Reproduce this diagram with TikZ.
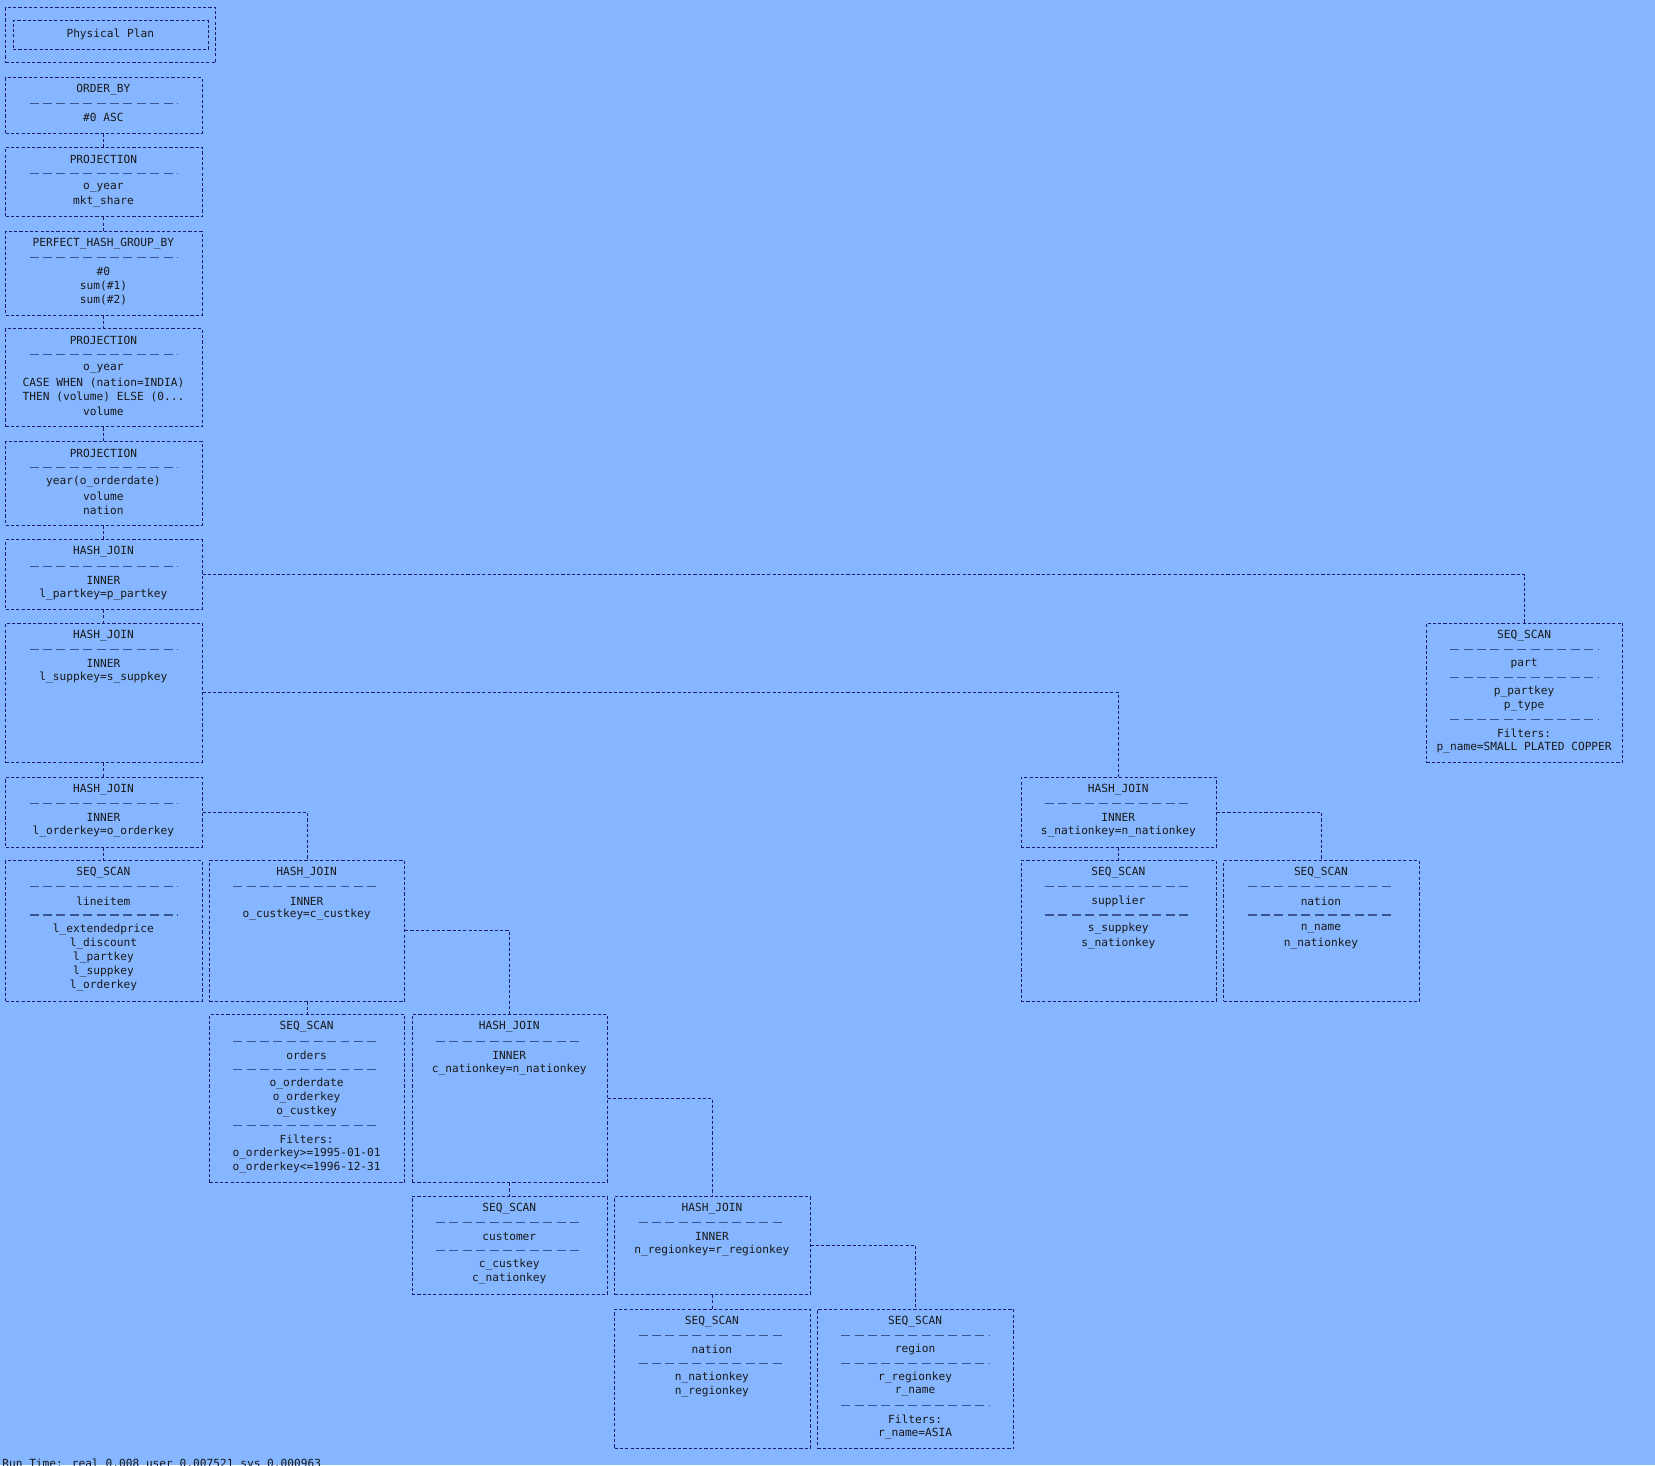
\documentclass[tikz,border=0pt]{standalone}
\usepackage{fontspec}
\newfontfamily\mono{DejaVu Sans Mono}
\definecolor{bg}{HTML}{85B6FF}
\definecolor{edge}{HTML}{1E1E66}
\definecolor{sep}{HTML}{3A5590}
\newcommand\mytdots{...}
\tikzset{
  pbox/.style={draw=edge,densely dashed,line width=0.9pt,inner sep=0,anchor=north west},
  conn/.style={draw=edge,densely dashed,line width=0.9pt},
  sepline/.style={draw=sep,line width=1pt,dash pattern=on 8.5pt off 4.2pt},
  ptext/.style={font=\mono\fontsize{10.6}{12}\selectfont,text=black!90,inner sep=0}
}
\newcommand\plan[6]{%
  \node[pbox,minimum width=#3-#2,minimum height=#5-#4] (#1) at (#2,#4) {};
  \foreach \t [count=\i from 0] in {#6}{%
    \def\dsh{-}%
    \pgfmathsetmacro\yy{#4+12+13.3*\i}%
    \ifx\t\dsh
      \draw[sepline] (#2+23,\yy) -- (#3-23,\yy);
    \else
      \node[ptext] at ({(#2+#3)/2},\yy) {\t};
    \fi}}
\begin{document}
\begin{tikzpicture}[x=1pt,y=-1pt]
\fill[bg] (0,0) rectangle (1568,1388);
\useasboundingbox (0,0) rectangle (1568,1388);
\node[pbox,minimum width=199,minimum height=52] (pp) at (5,7) {};
\node[pbox,minimum width=185,minimum height=27] (ppi) at (12,19) {};
\node[ptext] (ppt) at (104.5,32.5) {Physical Plan};
\plan{ob}{5}{191}{73}{126}{ORDER\_BY,-,\#0 ASC}
\plan{p1}{5}{191}{139}{205}{PROJECTION,-,o\_year,mkt\_share}
\plan{gb}{5}{191}{219}{298}{PERFECT\_HASH\_GROUP\_BY,-,\#0,sum(\#1),sum(\#2)}
\plan{p2}{5}{191}{311}{404}{PROJECTION,-,o\_year,CASE WHEN (nation=INDIA),THEN (volume) ELSE (0\mytdots,volume}
\plan{p3}{5}{191}{418}{497}{PROJECTION,-,year(o\_orderdate),volume,nation}
\plan{h1}{5}{191}{511}{577}{HASH\_JOIN,-,INNER,l\_partkey=p\_partkey}
\plan{h2}{5}{191}{590}{722}{HASH\_JOIN,-,INNER,l\_suppkey=s\_suppkey}
\plan{h3}{5}{191}{736}{802}{HASH\_JOIN,-,INNER,l\_orderkey=o\_orderkey}
\plan{li}{5}{191}{815}{948}{SEQ\_SCAN,-,lineitem,-,l\_extendedprice,l\_discount,l\_partkey,l\_suppkey,l\_orderkey}
\plan{h4}{198}{383}{815}{948}{HASH\_JOIN,-,INNER,o\_custkey=c\_custkey}
\plan{or}{198}{383}{961}{1120}{SEQ\_SCAN,-,orders,-,o\_orderdate,o\_orderkey,o\_custkey,-,Filters:,o\_orderkey>=1995-01-01,o\_orderkey<=1996-12-31}
\plan{h5}{390}{575}{961}{1120}{HASH\_JOIN,-,INNER,c\_nationkey=n\_nationkey}
\plan{cu}{390}{575}{1133}{1226}{SEQ\_SCAN,-,customer,-,c\_custkey,c\_nationkey}
\plan{h6}{582}{767}{1133}{1226}{HASH\_JOIN,-,INNER,n\_regionkey=r\_regionkey}
\plan{na}{582}{767}{1240}{1372}{SEQ\_SCAN,-,nation,-,n\_nationkey,n\_regionkey}
\plan{re}{774}{960}{1240}{1372}{SEQ\_SCAN,-,region,-,r\_regionkey,r\_name,-,Filters:,r\_name=ASIA}
\plan{h7}{967}{1152}{736}{802}{HASH\_JOIN,-,INNER,s\_nationkey=n\_nationkey}
\plan{su}{967}{1152}{815}{948}{SEQ\_SCAN,-,supplier,-,s\_suppkey,s\_nationkey}
\plan{nb}{1159}{1344}{815}{948}{SEQ\_SCAN,-,nation,-,n\_name,n\_nationkey}
\plan{pa}{1351}{1537}{590}{722}{SEQ\_SCAN,-,part,-,p\_partkey,p\_type,-,Filters:,p\_name=SMALL PLATED COPPER}
\foreach \a/\b in {ob/p1,p1/gb,gb/p2,p2/p3,p3/h1,h1/h2,h2/h3,h3/li,h4/or,h5/cu,h6/na,h7/su}
  \draw[conn] (\a.south) -- (\b.north);
\foreach \a/\b in {h1/pa,h2/h7,h3/h4,h4/h5,h5/h6,h6/re,h7/nb}
  \draw[conn] (\a.east) -| (\b.north);
\node[ptext,anchor=west] (rt) at (2,1387) {Run Time: real 0.008 user 0.007521 sys 0.000963};
\end{tikzpicture}
\end{document}
